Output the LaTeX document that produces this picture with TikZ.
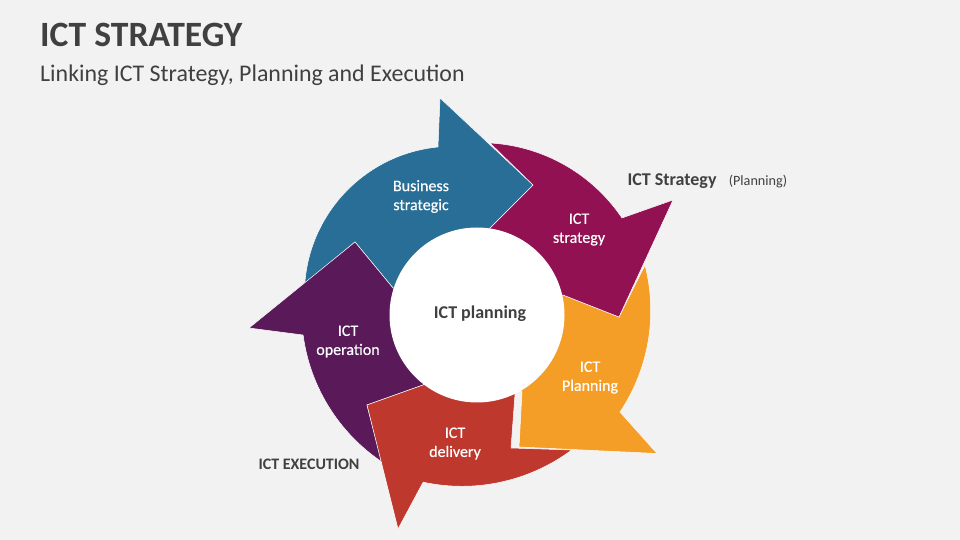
\documentclass[tikz,border=0pt]{standalone}
\usepackage{fontspec}
\setmainfont{Carlito}
\newfontfamily\labfont[FakeBold=0.4]{Carlito}
\usepackage{xcolor}
\definecolor{paper}{HTML}{F2F2F2}
\definecolor{ink}{HTML}{404040}
\definecolor{bluearrow}{HTML}{286E96}
\definecolor{magarrow}{HTML}{921152}
\definecolor{orgarrow}{HTML}{F59E27}
\definecolor{redarrow}{HTML}{BE382E}
\definecolor{purarrow}{HTML}{5A1A5A}
\tikzset{
  petal/.style={draw=white, line width=0.5pt, line join=miter},
  lab/.style={text=white, align=center, inner sep=0pt, font=\labfont\fontsize{16}{19}\selectfont},
  side/.style={text=ink, inner sep=0pt, font=\fontsize{18}{21}\selectfont\bfseries},
  head/.style={text=ink, anchor=west, inner sep=0pt},
}
\begin{document}
\begin{tikzpicture}[x=1pt,y=1pt]
  \fill[paper] (0,0) rectangle (960,540);
  \useasboundingbox (0,0) rectangle (960,540);
  \coordinate (P) at (477,225);
  \node[head,font=\fontsize{35.6}{38}\selectfont\bfseries] (title) at (40,505) {ICT STRATEGY};
  \node[head,font=\fontsize{23.9}{28}\selectfont] (subtitle) at (40,465) {Linking ICT Strategy, Planning and Execution};
  % back to front, each head lies on the next tail
  \fill[bluearrow,petal] (533,355)--(440,442)--(438,393) arc[start angle=95.6,end angle=176,radius=148]--(355,298)--(393,252)--(P)--(490,312)--cycle;
  \fill[purarrow,petal] (382,78) arc[start angle=236.1,end angle=187.6,radius=182]--(249,212)--(355,298)--(393,252)--(P)--(423,155)--(367,135)--cycle;
  \fill[redarrow,petal] (571.7,90) arc[start angle=-53.4,end angle=-102.2,radius=184]--(398,11)--(367,135)--(423,155)--(P)--(515,146)--(511,92)--cycle;
  \fill[orgarrow,petal] (645,275) arc[start angle=14.4,end angle=-33.7,radius=183]--(657,86.5)--(519,93)--(522,148)--(P)--(563,245)--(619,223)--cycle;
  \fill[magarrow,petal] (490,397) arc[start angle=86.8,end angle=34,radius=170.7]--(673,340)--(619,223)--(563,245)--(P)--(490,312)--(533,355)--cycle;
  \fill[bluearrow] (533,355)--(490,312)--(470,330)--cycle;
  \draw[white,line width=0.5pt] (490,312)--(533,355);
  \node[circle,fill=white,minimum size=175pt,inner sep=0pt] (hub) at (P) {};
  \node[side] (plan) at (480,226.5) {ICT planning};
  \node[lab] (bus) at (421,343.5) {Business\\strategic};
  \node[lab] (strat) at (579,310.5) {ICT\\strategy};
  \node[lab] (pln) at (590,162.5) {ICT\\Planning};
  \node[lab] (del) at (455,96.5) {ICT\\delivery};
  \node[lab] (op) at (348,198.5) {ICT\\operation};
  \node[side] (stratside) at (672,358.5) {ICT Strategy};
  \node[text=ink,inner sep=0pt,font=\fontsize{14.2}{16}\selectfont] (planside) at (758,358) {(Planning)};
  \node[side,font=\fontsize{16}{19}\selectfont\bfseries] (exec) at (309,75.5) {ICT EXECUTION};
\end{tikzpicture}
\end{document}
